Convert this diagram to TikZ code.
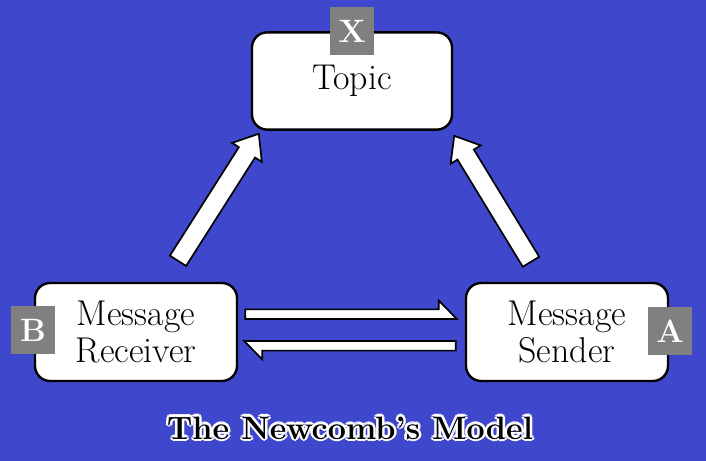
\documentclass[tikz,border=0pt]{standalone}
\usetikzlibrary{calc}
\definecolor{paintblue}{RGB}{63,72,204}
\definecolor{taggray}{RGB}{128,128,128}
\newcommand*{\shaft }{0.24cm}
\newcommand*{\barb  }{0.44cm}
\newcommand*{\head  }{0.55cm}
\newcommand*{\hshaft}{0.24cm}
\newcommand*{\hbarb }{0.46cm}
\newcommand*{\hhead }{0.45cm}
% block arrow from #1 (tail) to #2 (tip)
\newcommand*{\fatarrow}[2]{%
    \coordinate (neck) at ($(#2)!\head!(#1)$);
    \draw [arrowline] ($(#1)!\shaft!90:(#2)$) -- ($(neck)!\shaft!90:(#2)$) -- ($(neck)!\barb!90:(#2)$) -- (#2)
        -- ($(neck)!\barb!-90:(#2)$) -- ($(neck)!\shaft!-90:(#2)$) -- ($(#1)!\shaft!-90:(#2)$) -- cycle;}
% half-headed block arrow, barb on the left of #1 -> #2
\newcommand*{\harpoon}[2]{%
    \coordinate (neck) at ($(#2)!\hhead!(#1)$);
    \draw [arrowline] (#1) -- (#2) -- ($(neck)!\hbarb!90:(#2)$) -- ($(neck)!\hshaft!90:(#2)$)
        -- ($(#1)!\hshaft!90:(#2)$) -- cycle;}

\begin{document}
\begin{tikzpicture}[x=0.025cm, y=0.025cm,
    box/.style={draw, fill=white, line width=1.7pt, rounded corners=0.38cm, minimum width=5.05cm, minimum height=2.45cm,
        align=center, font=\fontsize{25.5}{26}\selectfont},
    tag/.style={fill=taggray, text=white, minimum width=1.12cm, minimum height=1.18cm, inner sep=0pt,
        font=\bfseries\fontsize{23}{23}\selectfont},
    title/.style={font=\bfseries\fontsize{23}{25}\selectfont},
    arrowline/.style={draw=black, fill=white, line width=1.2pt, line join=miter}]
    \fill [paintblue] (0,0) rectangle (706,461);
    \node [box, minimum width=5cm, minimum height=2.43cm] (topic) at (352,380) {Topic};
    \node [box] (recv) at (136,129) {Message\\Receiver};
    \node [box] (send) at (567,129) {Message\\Sender};
    \node [tag] (tagX) at (352,430) {X};
    \node [tag] (tagB) at (33,131)  {B};
    \node [tag] (tagA) at (670,130) {A};
    % arrow ends
    \coordinate (lt) at ($(recv.north)+(42,21)$);
    \coordinate (lh) at ($(topic.south west)+(8,-3)$);
    \coordinate (rt) at ($(send.north)+(-36,20)$);
    \coordinate (rh) at ($(topic.south east)+(1,-5)$);
    \coordinate (ut) at ($(recv.east)+(7,13)$);
    \coordinate (uh) at ($(send.west)+(-8,13)$);
    \coordinate (dt) at ($(send.west)+(-9,-9)$);
    \coordinate (dh) at ($(recv.east)+(6,-9)$);
    \fatarrow{lt}{lh}
    \fatarrow{rt}{rh}
    \harpoon{ut}{uh}
    \harpoon{dt}{dh}
    % title, white halo first
    \foreach \a in {0,45,...,315}
        \node [title, text=white] at ($(350,33)+(\a:1.8pt)$) {The Newcomb's Model};
    \node [title] (heading) at (350,33) {The Newcomb's Model};
\end{tikzpicture}
\end{document}
